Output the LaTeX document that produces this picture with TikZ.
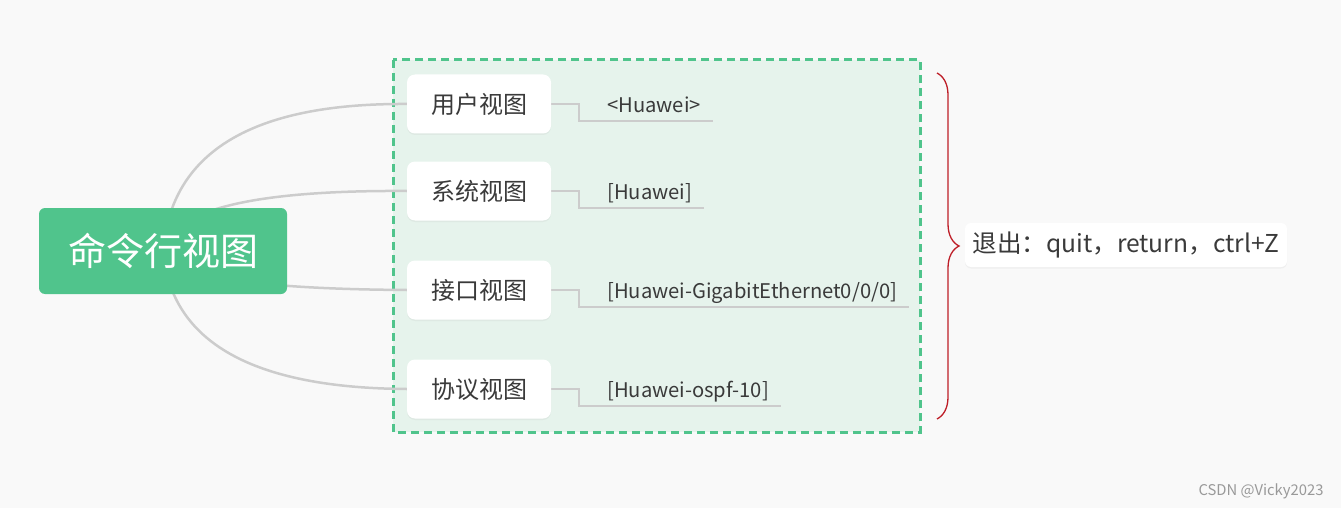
\documentclass[tikz,border=0pt]{standalone}
\usepackage{fontspec}
\setmainfont{Noto Sans CJK SC}
\usetikzlibrary{calc,decorations.pathreplacing,shadows}

\definecolor{pagebg}{RGB}{249,249,249}
\definecolor{rootgreen}{RGB}{80,196,140}
\definecolor{framefill}{RGB}{230,243,236}
\definecolor{linkgray}{RGB}{204,204,204}
\definecolor{inkgray}{RGB}{58,58,58}
\definecolor{bracered}{RGB}{190,30,40}

\pgfdeclarelayer{back}
\pgfdeclarelayer{links}
\pgfsetlayers{back,links,main}

\tikzset{
  rootbox/.style={fill=rootgreen, text=white, rounded corners=6pt,
    minimum width=248pt, minimum height=86pt, font=\fontsize{38}{42}\selectfont},
  viewbox/.style={fill=white, text=inkgray, rounded corners=8pt,
    minimum width=144pt, minimum height=59pt, font=\fontsize{24}{28}\selectfont,
    drop shadow={shadow xshift=0pt, shadow yshift=-1.5pt, opacity=.08}},
  promptbox/.style={text=inkgray, inner xsep=12pt, inner ysep=2pt,
    font=\fontsize{20.2}{23}\selectfont},
  exitbox/.style={fill=white, text=inkgray, rounded corners=6pt,
    minimum width=322pt, minimum height=44pt, font=\fontsize{24.6}{28}\selectfont,
    drop shadow={shadow xshift=0pt, shadow yshift=-1.5pt, opacity=.08}},
  framebox/.style={fill=framefill, draw=rootgreen, line width=3pt,
    dash pattern=on 8pt off 5pt},
  branch/.style={draw=linkgray, line width=2.5pt},
  twig/.style={draw=linkgray, line width=1.5pt},
  bracket/.style={draw=bracered, line width=1.3pt,
    decorate, decoration={brace, amplitude=22pt}}
}

\begin{document}
\begin{tikzpicture}[x=1pt, y=-1pt]
  \begin{pgfonlayer}{back}
    \fill[pagebg] (0,0) rectangle (1341,508);
    \path[framebox] (393,60) rectangle (920,432);
  \end{pgfonlayer}
  \useasboundingbox (0,0) rectangle (1341,508);

  \node[rootbox] (root) at (163,251) {命令行视图};

  % views and their prompts
  \foreach \i/\y/\name/\prompt in {1/102.5/用户视图/{<Huawei>},
      2/189.5/系统视图/{[Huawei]},
      3/288.5/接口视图/{[Huawei-GigabitEthernet0/0/0]},
      4/387.5/协议视图/{[Huawei-ospf-10]}} {
    \node[viewbox] (v\i) at (479,\y+1.5) {\name};
    \node[promptbox, anchor=base west] (p\i) at (595,\y+10) {\prompt};
    \begin{pgfonlayer}{links}
      \draw[branch] (root.center)
        .. controls ($(root.center)!.667!(175,\y)$) and ($(v\i.west)!.667!(175,\y)$)
        .. (v\i.west);
      \draw[twig] (v\i.east) -- ++(28,0) |- ([yshift=-8.5pt]p\i.base east);
    \end{pgfonlayer}
  }

  \coordinate (btop) at (937,73);
  \coordinate (bbot) at (937,419);
  \draw[bracket] (btop) -- (bbot);

  \node[exitbox] (quit) at (1126,245) {退出：quit，return，ctrl+Z};

  \node[anchor=east, text=black!40, font=\fontsize{14.8}{17}\selectfont] (mark)
    at (1327,491) {CSDN @Vicky2023};
\end{tikzpicture}
\end{document}
